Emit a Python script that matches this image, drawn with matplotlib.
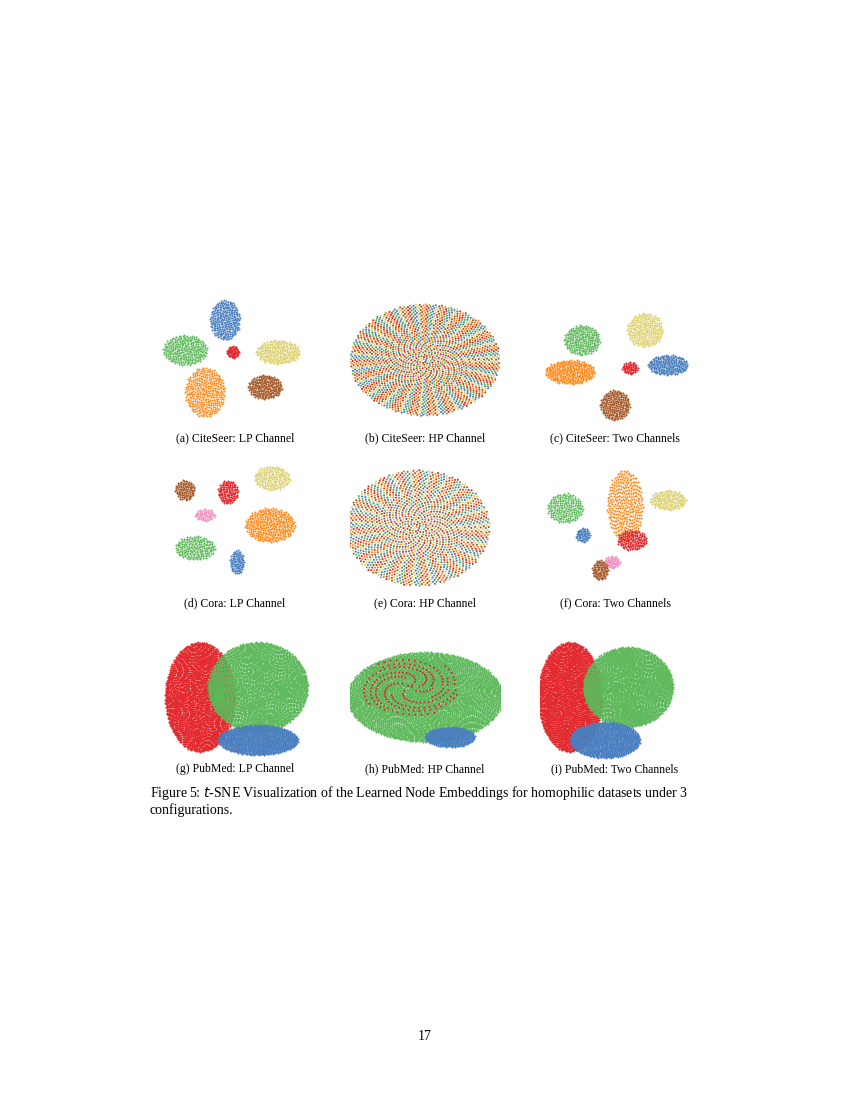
import numpy as np
import matplotlib
matplotlib.use("Agg")
import matplotlib.pyplot as plt

plt.rcParams['font.family'] = ['Liberation Serif', 'DejaVu Serif']

COL = {"blue": "#4a7fbf", "green": "#5db85a", "red": "#e3262b", "orange": "#ff8a1c",
       "brown": "#a65a2a", "yellow": "#dccf6e", "pink": "#ef8fc2"}
MIX = ["#4a7fbf", "#5db85a", "#e3262b", "#ff8a1c", "#a65a2a", "#dccf6e"]
MIX_RG = ["#e3262b", "#5db85a", "#5db85a"]

titles = ["(a) CiteSeer: LP Channel", "(b) CiteSeer: HP Channel", "(c) CiteSeer: Two Channels",
          "(d) Cora: LP Channel", "(e) Cora: HP Channel", "(f) Cora: Two Channels",
          "(g) PubMed: LP Channel", "(h) PubMed: HP Channel", "(i) PubMed: Two Channels"]

# clusters: (colour, cx, cy, rx, ry, n) in panel units (0..150 x 0..130)
citeseer_lp = [("blue", 65, 105, 15, 20, 260), ("green", 25, 75, 22, 15, 260), ("red", 73, 73, 6, 6, 60),
               ("yellow", 118, 73, 22, 12, 220), ("orange", 45, 33, 20, 25, 320), ("brown", 105, 38, 17, 12, 220)]
citeseer_hp = [("mix", 75, 65, 75, 56, 2200)]
citeseer_two = [("green", 42, 85, 18, 15, 220), ("yellow", 105, 95, 18, 17, 220), ("blue", 128, 60, 20, 10, 220),
                ("red", 90, 57, 8, 6, 60), ("orange", 30, 53, 25, 12, 300), ("brown", 75, 20, 15, 15, 220)]
cora_lp = [("brown", 25, 100, 10, 10, 100), ("red", 68, 98, 10, 12, 120), ("yellow", 112, 112, 18, 12, 160),
           ("pink", 45, 75, 10, 6, 60), ("orange", 110, 65, 25, 17, 330), ("green", 35, 42, 20, 12, 180),
           ("blue", 77, 28, 7, 12, 90)]
cora_hp = [("mix", 68, 62, 72, 58, 1800)]
cora_two = [("green", 25, 82, 18, 15, 180), ("blue", 43, 55, 7, 7, 60), ("orange", 85, 85, 18, 35, 330),
            ("yellow", 128, 90, 18, 10, 150), ("red", 92, 50, 15, 10, 140), ("pink", 72, 28, 8, 6, 60),
            ("brown", 60, 20, 8, 10, 90)]
pubmed_lp = [("red", 40, 65, 35, 55, 3000), ("green", 98, 75, 50, 45, 3500), ("blue", 98, 22, 40, 15, 1200)]
pubmed_hp = [("green", 75, 65, 78, 45, 5000), ("mixrg", 60, 75, 50, 30, 600), ("blue", 100, 25, 25, 10, 500)]
pubmed_two = [("red", 30, 65, 32, 55, 3000), ("green", 88, 75, 45, 40, 3200), ("blue", 65, 22, 35, 18, 1200)]

panels = [citeseer_lp, citeseer_hp, citeseer_two, cora_lp, cora_hp, cora_two, pubmed_lp, pubmed_hp, pubmed_two]

fig = plt.figure(figsize=(8.5, 11), dpi=100)
centers_x = [235, 425, 615]
tops = [295, 460, 632]
caps = [438, 603, 769]
GA = np.pi * (3 - np.sqrt(5))
for i, clusters in enumerate(panels):
    r, c = divmod(i, 3)
    ax = fig.add_axes([(centers_x[c] - 75) / 850, 1 - (tops[r] + 130) / 1100, 150 / 850, 130 / 1100])
    for colname, cx, cy, rx, ry, n in clusters:
        k = np.arange(n)
        rad = np.sqrt((k + 0.5) / n)
        th = k * GA
        xs = cx + rx * rad * np.cos(th)
        ys = cy + ry * rad * np.sin(th)
        h = (k * 2654435761) % 4294967296 // 65536
        if colname == "mix":
            cols = [MIX[j % len(MIX)] for j in h]
        elif colname == "mixrg":
            cols = [MIX_RG[j % len(MIX_RG)] for j in h]
        else:
            cols = COL[colname]
        ax.scatter(xs, ys, s=2.2, c=cols, linewidths=0)
    ax.set_xlim(0, 150); ax.set_ylim(0, 130)
    ax.axis("off")
    fig.text(centers_x[c] / 850, 1 - caps[r] / 1100, titles[i], ha="center", va="center", fontsize=8.5)

fig.text(150 / 850, 1 - 793 / 1100,
         "Figure 5: $t$-SNE Visualization of the Learned Node Embeddings for homophilic datasets under 3",
         ha="left", va="center", fontsize=10)
fig.text(150 / 850, 1 - 810 / 1100, "configurations.", ha="left", va="center", fontsize=10)
fig.text(425 / 850, 1 - 1037 / 1100, "17", ha="center", va="center", fontsize=10)
fig.savefig("out.png", dpi=100)
